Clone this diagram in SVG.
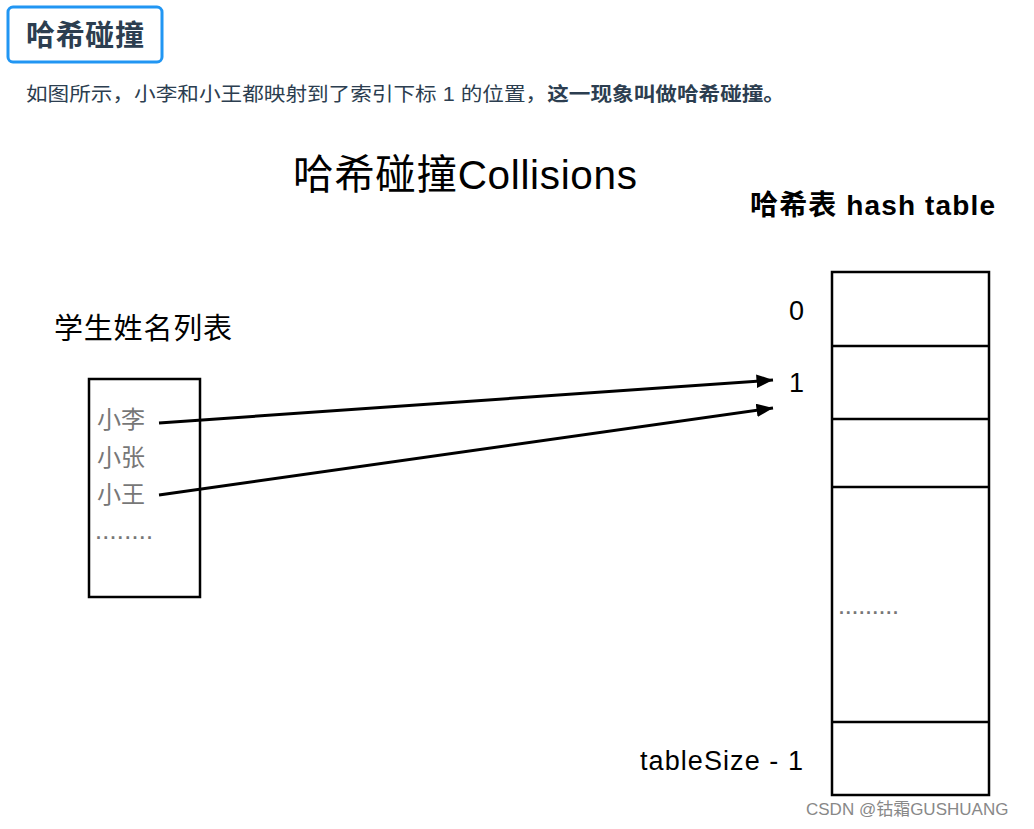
<svg xmlns="http://www.w3.org/2000/svg" width="1034" height="829" viewBox="0 0 1034 829">
<style>
.t{font-family:"Liberation Sans","Noto Sans CJK SC",sans-serif}
.box{fill:#fff;stroke:#000;stroke-width:2.5}
.name{font-size:24px;fill:#777}
.idx{font-size:27px;fill:#000}
.dots{font-size:18px;font-weight:bold;fill:#777}
.conn{stroke:#000;stroke-width:3;fill:none;marker-end:url(#ah)}
</style>
<defs><marker id="ah" markerWidth="5.5" markerHeight="4.5" refX="5.5" refY="2.25" orient="auto"><path d="M0,0 L5.5,2.25 L0,4.5 Z" fill="#000"/></marker></defs>
<rect width="1034" height="829" fill="#fff"/>
<g id="heading">
<rect x="8" y="7" width="154" height="55" rx="5" fill="#fff" stroke="#2196f3" stroke-width="3"/>
<text class="t" x="26" y="46" font-size="29" font-weight="bold" fill="#2c3e50" textLength="118">哈希碰撞</text>
</g>
<text class="t" x="26" y="101" font-size="19.5" fill="#2c3e50" textLength="759" lengthAdjust="spacingAndGlyphs">如图所示，小李和小王都映射到了索引下标 1 的位置，<tspan font-weight="bold">这一现象叫做哈希碰撞。</tspan></text>
<text class="t" x="293" y="189" font-size="40.5" fill="#000" textLength="344">哈希碰撞Collisions</text>
<text class="t" x="750" y="215" font-size="28" font-weight="bold" fill="#000" textLength="245">哈希表 hash table</text>
<text class="t" x="54" y="339" font-size="29" fill="#000" textLength="178">学生姓名列表</text>
<g id="names">
<rect class="box" x="89" y="379" width="111" height="218"/>
<text class="t name" x="97" y="428">小李</text>
<text class="t name" x="97" y="466">小张</text>
<text class="t name" x="97" y="503">小王</text>
<text class="t dots" x="96" y="539" textLength="56">........</text>
</g>
<g id="table">
<rect class="box" x="832" y="272" width="157" height="523"/>
<line x1="832" y1="346" x2="989" y2="346" stroke="#000" stroke-width="2.5"/>
<line x1="832" y1="419" x2="989" y2="419" stroke="#000" stroke-width="2.5"/>
<line x1="832" y1="487" x2="989" y2="487" stroke="#000" stroke-width="2.5"/>
<line x1="832" y1="722" x2="989" y2="722" stroke="#000" stroke-width="2.5"/>
<text class="t dots" x="839" y="614" textLength="59">.........</text>
<text class="t idx" x="789" y="320">0</text>
<text class="t idx" x="789" y="392">1</text>
<text class="t idx" x="640" y="770" textLength="163">tableSize - 1</text>
</g>
<g id="connectors">
<line class="conn" x1="159" y1="423" x2="773" y2="380"/>
<line class="conn" x1="159" y1="495" x2="773" y2="408"/>
</g>
<text class="t" x="806" y="815" font-size="17" fill="#888">CSDN @钴霜GUSHUANG</text>
</svg>
